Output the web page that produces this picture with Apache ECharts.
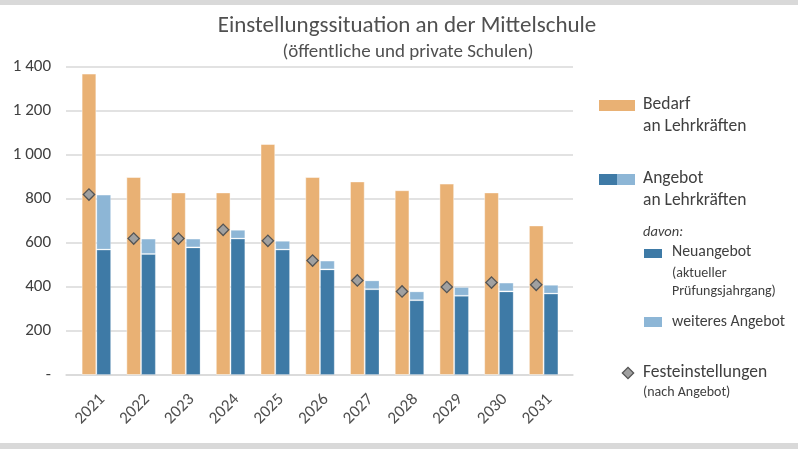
<!DOCTYPE html>
<html>
<head>
<meta charset="utf-8">
<script src="https://cdn.jsdelivr.net/npm/echarts@6/dist/echarts.min.js"></script>
<style>
html,body{margin:0;padding:0;background:#fff;}
#c{width:798px;height:449px;}
</style>
</head>
<body>
<div id="c"></div>
<script>
var years = ['2021','2022','2023','2024','2025','2026','2027','2028','2029','2030','2031'];
var bedarf = [1370, 900, 830, 830, 1050, 900, 880, 840, 870, 830, 680];
var neuangebot = [570, 550, 580, 620, 570, 480, 390, 340, 360, 380, 370];
var weiteres = [250, 70, 40, 40, 40, 40, 40, 40, 40, 40, 40];
var festeinstellungen = [820, 620, 620, 660, 610, 520, 430, 380, 400, 420, 410];
var yTicks = [0, 200, 400, 600, 800, 1000, 1200, 1400];

var FONT = 'Carlito, Lato, sans-serif';
var TXT = '#404040';
var C_OR = '#E9B174', C_DB = '#3E7AA6', C_LB = '#8DB6D6';

function fmt(v){
  if (v === 0) return '-';
  return String(v).replace(/\B(?=(\d{3})+(?!\d))/g, ' ');
}

var chart = echarts.init(document.getElementById('c'), null, {renderer:'canvas'});

var legendX = 599, textX = 643, subX = 672;
var graphic = [
  {type:'rect', shape:{x:0,y:0,width:798,height:5}, style:{fill:'#d9d9d9'}, silent:true},
  {type:'rect', shape:{x:0,y:443,width:798,height:6}, style:{fill:'#d9d9d9'}, silent:true},
  {type:'text', x:407, y:26, style:{text:'Einstellungssituation an der Mittelschule', font:'23px '+FONT, fill:'#505050', textAlign:'center', textVerticalAlign:'middle'}},
  {type:'text', x:408, y:52, style:{text:'(öffentliche und private Schulen)', font:'19px '+FONT, fill:'#505050', textAlign:'center', textVerticalAlign:'middle'}},
  // legend
  {type:'rect', shape:{x:legendX,y:100,width:36,height:11}, style:{fill:C_OR}},
  {type:'text', x:textX, y:105, style:{text:'Bedarf', font:'17.5px '+FONT, fill:TXT, textVerticalAlign:'middle'}},
  {type:'text', x:textX, y:127, style:{text:'an Lehrkräften', font:'17.5px '+FONT, fill:TXT, textVerticalAlign:'middle'}},
  {type:'rect', shape:{x:legendX,y:174,width:18,height:11}, style:{fill:C_DB}},
  {type:'rect', shape:{x:legendX+18,y:174,width:18,height:11}, style:{fill:C_LB}},
  {type:'text', x:textX, y:179, style:{text:'Angebot', font:'17.5px '+FONT, fill:TXT, textVerticalAlign:'middle'}},
  {type:'text', x:textX, y:201, style:{text:'an Lehrkräften', font:'17.5px '+FONT, fill:TXT, textVerticalAlign:'middle'}},
  {type:'text', x:textX, y:232, style:{text:'davon:', font:'italic 14.5px '+FONT, fill:TXT, textVerticalAlign:'middle'}},
  {type:'rect', shape:{x:644,y:249,width:18,height:9}, style:{fill:C_DB}},
  {type:'text', x:subX, y:252, style:{text:'Neuangebot', font:'15.8px '+FONT, fill:TXT, textVerticalAlign:'middle'}},
  {type:'text', x:subX, y:273, style:{text:'(aktueller', font:'14px '+FONT, fill:TXT, textVerticalAlign:'middle'}},
  {type:'text', x:subX, y:291, style:{text:'Prüfungsjahrgang)', font:'14px '+FONT, fill:TXT, textVerticalAlign:'middle'}},
  {type:'rect', shape:{x:644,y:317,width:18,height:10}, style:{fill:C_LB}},
  {type:'text', x:subX, y:322, style:{text:'weiteres Angebot', font:'15.8px '+FONT, fill:TXT, textVerticalAlign:'middle'}},
  {type:'rect', shape:{x:-4,y:-4,width:8,height:8}, x:628, y:373, rotation:Math.PI/4, style:{fill:'#A0A0A0', stroke:'#555', lineWidth:1.3}},
  {type:'text', x:textX, y:373, style:{text:'Festeinstellungen', font:'17.5px '+FONT, fill:TXT, textVerticalAlign:'middle'}},
  {type:'text', x:textX, y:392, style:{text:'(nach Angebot)', font:'14px '+FONT, fill:TXT, textVerticalAlign:'middle'}}
];

var option = {
  animation:false,
  backgroundColor:'#fff',
  textStyle:{fontFamily:FONT},
  grid:[
    {left:74, right:232, top:67, bottom:74},
    {left:66, right:225, top:67, bottom:74}
  ],
  xAxis:[
    {type:'category', gridIndex:0, data:years,
     axisLine:{show:false}, axisTick:{show:false},
     axisLabel:{rotate:45, margin:16, verticalAlign:'top', color:'#505050', fontSize:17, fontFamily:FONT}},
    {type:'category', gridIndex:1, data:[''], show:true,
     axisLine:{show:true, lineStyle:{color:'#d9d9d9', width:1.5}}, axisTick:{show:false}, axisLabel:{show:false}}
  ],
  yAxis:[
    {type:'value', gridIndex:0, min:0, max:1400, interval:200, show:false},
    {type:'value', gridIndex:1, min:0, max:1400, interval:200,
     axisLine:{show:false}, axisTick:{show:false},
     splitLine:{lineStyle:{color:'#d9d9d9', width:1.5}},
     axisLabel:{margin:15, color:TXT, fontSize:17, fontFamily:FONT, formatter:fmt}}
  ],
  series:[
    {name:'Bedarf', type:'bar', xAxisIndex:0, yAxisIndex:0, data:bedarf,
     barGap:'0%', barCategoryGap:'34%',
     itemStyle:{color:C_OR, borderColor:'rgba(255,255,255,0.45)', borderWidth:1}},
    {name:'Neuangebot', type:'bar', stack:'a', xAxisIndex:0, yAxisIndex:0, data:neuangebot,
     barGap:'0%', barCategoryGap:'34%',
     itemStyle:{color:C_DB, borderColor:'rgba(255,255,255,0.25)', borderWidth:1}},
    {name:'weiteres Angebot', type:'bar', stack:'a', xAxisIndex:0, yAxisIndex:0, data:weiteres,
     barGap:'0%', barCategoryGap:'34%',
     itemStyle:{color:C_LB, borderColor:'rgba(255,255,255,0.25)', borderWidth:1}},
    {name:'Festeinstellungen', type:'scatter', xAxisIndex:0, yAxisIndex:0, data:festeinstellungen,
     symbol:'rect', symbolSize:8, symbolRotate:45, symbolOffset:[-7.4,0], z:5,
     itemStyle:{color:'#A0A0A0', borderColor:'#555', borderWidth:1.3, opacity:1}}
  ],
  graphic:graphic
};
chart.setOption(option);
</script>
</body>
</html>
